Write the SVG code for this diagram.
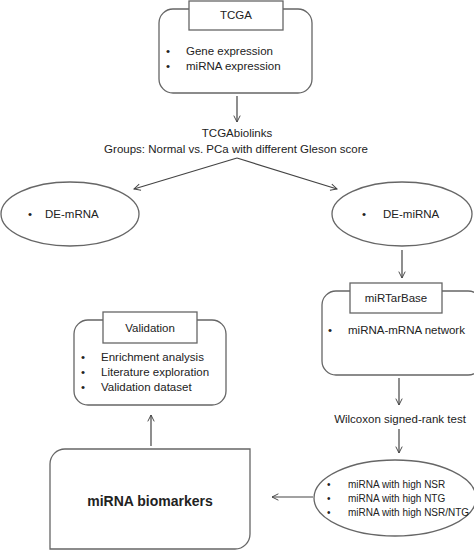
<svg xmlns="http://www.w3.org/2000/svg" width="474" height="551" viewBox="0 0 474 551">
<defs>
<marker id="ah" viewBox="0 0 10 10" refX="9" refY="5" markerWidth="8" markerHeight="8" orient="auto" markerUnits="userSpaceOnUse">
<path d="M1,1 L9,5 L1,9" fill="none" stroke="#444" stroke-width="1.2"/>
</marker>
<style>
.box{fill:#fff;stroke:#666;stroke-width:1.3}
.t{font-family:"Liberation Sans","Open Sans",sans-serif;font-size:11.5px;fill:#222}
.c{text-anchor:middle}
.b{font-weight:bold;font-size:14px}
.s{font-size:10px}
.ln{fill:none;stroke:#444;stroke-width:1.2}
</style>
</defs>
<rect width="474" height="551" fill="#fff"/>
<g id="tcga">
<rect class="box" x="159" y="9" width="153" height="84" rx="14"/>
<rect class="box" x="189" y="1" width="94" height="29"/>
<text class="t c" x="236" y="19">TCGA</text>
<text class="t" x="166" y="55">•</text><text class="t" x="186" y="55">Gene expression</text>
<text class="t" x="166" y="70">•</text><text class="t" x="186" y="70">miRNA expression</text>
</g>
<g id="tcgabiolinks">
<text class="t c" x="237" y="137">TCGAbiolinks</text>
<text class="t c" x="236" y="153">Groups: Normal vs. PCa with different Gleson score</text>
</g>
<g id="de-mrna">
<ellipse class="box" cx="70" cy="214" rx="69" ry="32"/>
<text class="t" x="28" y="218">•</text><text class="t" x="45" y="218">DE-mRNA</text>
</g>
<g id="de-mirna">
<ellipse class="box" cx="402" cy="214" rx="70" ry="32"/>
<text class="t" x="362" y="218">•</text><text class="t" x="383" y="218">DE-miRNA</text>
</g>
<g id="mirtarbase">
<rect class="box" x="322" y="291" width="160" height="84" rx="14"/>
<rect class="box" x="350" y="283" width="92" height="30"/>
<text class="t c" x="396" y="302">miRTarBase</text>
<text class="t" x="328" y="334">•</text><text class="t" x="348" y="334">miRNA-mRNA network</text>
</g>
<g id="wilcoxon">
<text class="t c" x="400" y="423">Wilcoxon signed-rank test</text>
</g>
<g id="mirna-high">
<ellipse class="box" cx="395" cy="498" rx="81" ry="38"/>
<text class="t s" x="327" y="488">•</text><text class="t s" x="348" y="488">miRNA with high NSR</text>
<text class="t s" x="327" y="502">•</text><text class="t s" x="348" y="502">miRNA with high NTG</text>
<text class="t s" x="327" y="516">•</text><text class="t s" x="348" y="516">miRNA with high NSR/NTG</text>
</g>
<g id="biomarkers">
<path class="box" d="M65,449 H250 V534 A15,15 0 0 1 235,549 H50 V464 A15,15 0 0 1 65,449 Z"/>
<text class="t c b" x="150" y="506">miRNA biomarkers</text>
</g>
<g id="validation">
<rect class="box" x="74" y="320" width="152" height="85" rx="14"/>
<rect class="box" x="103" y="312" width="94" height="31"/>
<text class="t c" x="150" y="332">Validation</text>
<text class="t" x="81" y="361">•</text><text class="t" x="101" y="361">Enrichment analysis</text>
<text class="t" x="81" y="376">•</text><text class="t" x="101" y="376">Literature exploration</text>
<text class="t" x="81" y="391">•</text><text class="t" x="101" y="391">Validation dataset</text>
</g>
<g id="connectors">
<line class="ln" x1="237" y1="96" x2="237" y2="122" marker-end="url(#ah)"/>
<line class="ln" x1="237" y1="158" x2="134" y2="189" marker-end="url(#ah)"/>
<line class="ln" x1="237" y1="158" x2="337" y2="189" marker-end="url(#ah)"/>
<line class="ln" x1="402" y1="250" x2="402" y2="278" marker-end="url(#ah)"/>
<line class="ln" x1="399" y1="378" x2="399" y2="405" marker-end="url(#ah)"/>
<line class="ln" x1="399" y1="429" x2="399" y2="453" marker-end="url(#ah)"/>
<line class="ln" x1="313" y1="497" x2="272" y2="497" marker-end="url(#ah)"/>
<line class="ln" x1="151" y1="446" x2="151" y2="415" marker-end="url(#ah)"/>
</g>
</svg>
